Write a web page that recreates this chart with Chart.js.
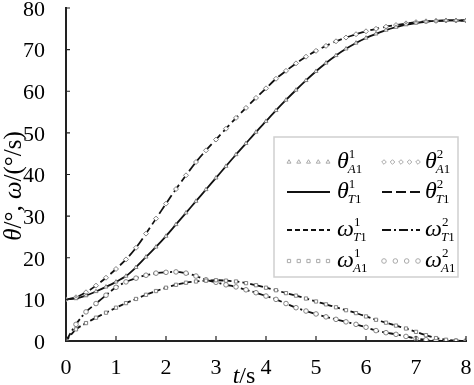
<!DOCTYPE html>
<html>
<head>
<meta charset="utf-8">
<script src="https://cdn.jsdelivr.net/npm/chart.js@4/dist/chart.umd.min.js"></script>
<style>
html, body { margin: 0; padding: 0; background: #fff; }
#wrap { width: 474px; height: 385px; }
</style>
</head>
<body>
<div id="wrap"><canvas id="chart" width="474" height="385"></canvas></div>
<script>
// time axis (s), one sample every 0.2 s
const times = [0, 0.2, 0.4, 0.6, 0.8, 1, 1.2, 1.4, 1.6, 1.8, 2, 2.2, 2.4, 2.6, 2.8, 3, 3.2, 3.4, 3.6, 3.8,
    4, 4.2, 4.4, 4.6, 4.8, 5, 5.2, 5.4, 5.6, 5.8, 6, 6.2, 6.4, 6.6, 6.8, 7, 7.2, 7.4, 7.6, 7.8, 8];

// angle curves (deg)
const thetaT1_1 = [10.0, 10.2, 10.9, 11.9, 13.0, 14.2, 15.6, 17.7, 20.2, 22.6, 25.2, 28.0, 30.8, 33.6, 36.4, 39.2, 42.0, 44.8, 47.5, 50.2,
    52.8, 55.4, 57.9, 60.3, 62.6, 64.8, 66.8, 68.6, 70.2, 71.6, 72.8, 73.8, 74.7, 75.4, 76.0, 76.4, 76.7, 76.9, 77.0, 77.0, 77.0];
const thetaT1_2 = [10.0, 10.5, 11.7, 13.3, 15.2, 17.3, 19.6, 22.4, 25.8, 29.4, 33.0, 36.5, 39.8, 43.0, 45.8, 48.4, 51.0, 53.6, 56.0, 58.4,
    60.7, 63.0, 64.9, 66.7, 68.3, 69.7, 70.9, 72.0, 72.9, 73.7, 74.4, 75.0, 75.5, 75.9, 76.3, 76.6, 76.8, 76.9, 77.0, 77.0, 77.0];
// angular velocity curves (deg/s)
const omegaT1_1 = [0, 2.8, 4.3, 5.6, 6.8, 8.0, 9.1, 10.1, 11.1, 12.0, 12.8, 13.5, 14.0, 14.3, 14.5, 14.6, 14.5, 14.3, 13.9, 13.4,
    12.8, 12.2, 11.5, 10.9, 10.2, 9.5, 8.8, 8.1, 7.4, 6.7, 5.9, 5.1, 4.4, 3.7, 3.0, 2.2, 1.4, 0.7, 0.3, 0.1, 0];
const omegaT1_2 = [0, 4.0, 7.0, 9.0, 11.0, 12.9, 14.2, 15.1, 15.8, 16.3, 16.5, 16.6, 16.3, 15.6, 14.7, 14.1, 13.5, 13.0, 12.3, 11.6,
    10.8, 10.0, 9.0, 8.0, 7.2, 6.5, 5.8, 5.2, 4.6, 4.0, 3.3, 2.5, 2.0, 1.6, 1.1, 0.6, 0.3, 0.1, 0, 0, 0];
// the A1 markers sit on top of the T1 lines
const thetaA1_1 = thetaT1_1;
const thetaA1_2 = thetaT1_2;
const omegaA1_1 = omegaT1_1;
const omegaA1_2 = omegaT1_2;

const xTicks = [0, 1, 2, 3, 4, 5, 6, 7, 8];
const yTicks = [0, 10, 20, 30, 40, 50, 60, 70, 80];
const xTitle = [['t', true], ['/s', false]];
const yTitle = [['θ', true], ['/°, ', false], ['ω', true], ['/(°/s)', false]];

const SERIF = '"Liberation Serif", "Times New Roman", serif';

function pts(ys) {
    return times.map((t, i) => ({ x: t, y: ys[i] }));
}

function markers(ys, style, r) {
    return {
        data: pts(ys), showLine: false, pointStyle: style, pointRadius: r,
        pointBorderColor: '#777', pointBackgroundColor: '#fff', pointBorderWidth: 0.9
    };
}

function line(ys, dash) {
    return {
        data: pts(ys), showLine: true, borderColor: '#111', borderWidth: 1.8, borderDash: dash,
        pointRadius: 0, tension: 0.3, fill: false
    };
}

// legend entries: [greek, sup, sub, kind, style]
const legendRows = [
    [['θ', '1', 'A', 'mark', 'triangle'], ['θ', '2', 'A', 'mark', 'rectRot']],
    [['θ', '1', 'T', 'line', []], ['θ', '2', 'T', 'line', [10, 4]]],
    [['ω', '1', 'T', 'line', [5, 3]], ['ω', '2', 'T', 'line', [9, 3, 2, 3]]],
    [['ω', '1', 'A', 'mark', 'rect'], ['ω', '2', 'A', 'mark', 'circle']]
];

function drawRich(ctx, parts, size) {
    let w = 0;
    parts.forEach(p => {
        ctx.font = (p[1] ? 'italic ' : '') + size + 'px ' + SERIF;
        w += ctx.measureText(p[0]).width;
    });
    let x = -w / 2;
    parts.forEach(p => {
        ctx.font = (p[1] ? 'italic ' : '') + size + 'px ' + SERIF;
        ctx.fillText(p[0], x, 0);
        x += ctx.measureText(p[0]).width;
    });
}

function drawSymbol(ctx, x, y, g, sup, sub) {
    ctx.fillStyle = '#000';
    ctx.textAlign = 'left';
    ctx.textBaseline = 'alphabetic';
    ctx.font = 'italic 24px ' + SERIF;
    ctx.fillText(g, x, y);
    const w = ctx.measureText(g).width;
    ctx.font = '13px ' + SERIF;
    ctx.fillText(sup, x + w, y - 10);
    ctx.font = 'italic 13px ' + SERIF;
    ctx.fillText(sub, x + w - 1, y + 5);
    const w2 = ctx.measureText(sub).width;
    ctx.font = '13px ' + SERIF;
    ctx.fillText('1', x + w - 1 + w2, y + 5);
}

const decor = {
    id: 'decor',
    afterDraw(chart) {
        const ctx = chart.ctx;
        const xs = chart.scales.x, ys = chart.scales.y;
        const area = chart.chartArea;
        ctx.save();
        // inward tick marks
        ctx.strokeStyle = '#222';
        ctx.lineWidth = 1.2;
        ctx.beginPath();
        xTicks.forEach(v => {
            const px = xs.getPixelForValue(v);
            ctx.moveTo(px, area.bottom);
            ctx.lineTo(px, area.bottom - 5);
        });
        yTicks.forEach(v => {
            const py = ys.getPixelForValue(v);
            ctx.moveTo(area.left, py);
            ctx.lineTo(area.left + 4, py);
        });
        ctx.stroke();

        // axis titles
        ctx.fillStyle = '#000';
        ctx.textAlign = 'left';
        ctx.textBaseline = 'alphabetic';
        ctx.save();
        ctx.translate(244, 383);
        drawRich(ctx, xTitle, 24);
        ctx.restore();
        ctx.save();
        ctx.translate(21, 186);
        ctx.rotate(-Math.PI / 2);
        drawRich(ctx, yTitle, 25);
        ctx.restore();

        // legend box
        const bx = 274, by = 137, bw = 184, bh = 140;
        ctx.fillStyle = '#fff';
        ctx.fillRect(bx, by, bw, bh);
        ctx.strokeStyle = '#cfcfcf';
        ctx.lineWidth = 1.5;
        ctx.strokeRect(bx, by, bw, bh);

        const rowY = [162, 192, 230, 261];
        const baseY = [168, 198, 236, 267];
        const sampleX = [[287, 330], [382, 420]];
        const labelX = [337, 425];
        legendRows.forEach((row, r) => {
            row.forEach((e, c) => {
                const [x0, x1] = sampleX[c];
                const y = rowY[r];
                if (e[3] === 'line') {
                    ctx.strokeStyle = '#111';
                    ctx.lineWidth = 1.8;
                    ctx.setLineDash(e[4]);
                    ctx.beginPath();
                    ctx.moveTo(x0, y);
                    ctx.lineTo(x1, y);
                    ctx.stroke();
                    ctx.setLineDash([]);
                } else {
                    const n = e[4] === 'circle' ? 4 : 5;
                    const step = (x1 - x0 - 4) / (n - 1);
                    ctx.strokeStyle = '#aaa';
                    ctx.fillStyle = '#fff';
                    ctx.lineWidth = 1;
                    for (let i = 0; i < n; i++) {
                        Chart.helpers.drawPoint(ctx, { pointStyle: e[4], radius: 2.3, rotation: 0, borderWidth: 1 },
                            x0 + 2 + i * step, y);
                    }
                }
                drawSymbol(ctx, labelX[c], baseY[r], e[0], e[1], e[2]);
            });
        });
        ctx.restore();
    }
};

const tickFont = { family: SERIF, size: 22 };

new Chart(document.getElementById('chart'), {
    type: 'scatter',
    data: {
        datasets: [
            markers(thetaA1_1, 'triangle', 2.3),
            markers(thetaA1_2, 'rectRot', 2.5),
            markers(omegaA1_1, 'rect', 2.3),
            markers(omegaA1_2, 'circle', 2.3),
            line(thetaT1_1, []),
            line(thetaT1_2, [9, 4]),
            line(omegaT1_1, [5, 3]),
            line(omegaT1_2, [9, 3, 2, 3])
        ]
    },
    options: {
        responsive: false,
        animation: false,
        devicePixelRatio: 1,
        layout: { padding: { left: 0, top: 8, right: 8, bottom: 0 } },
        plugins: { legend: { display: false }, tooltip: { enabled: false } },
        scales: {
            x: {
                type: 'linear', min: 0, max: 8,
                grid: { display: false },
                border: { display: true, color: '#222', width: 2 },
                ticks: { stepSize: 1, color: '#000', font: tickFont, padding: 6, maxRotation: 0 },
                afterFit(s) { s.height = 44; s.paddingLeft = 0; s.paddingRight = 0; }
            },
            y: {
                type: 'linear', min: 0, max: 80,
                grid: { display: false },
                border: { display: true, color: '#222', width: 2 },
                ticks: { stepSize: 10, color: '#000', font: tickFont, padding: 13, labelOffset: 2 },
                afterFit(s) { s.width = 66; s.paddingTop = 0; s.paddingBottom = 0; }
            }
        }
    },
    plugins: [decor]
});
</script>
</body>
</html>
